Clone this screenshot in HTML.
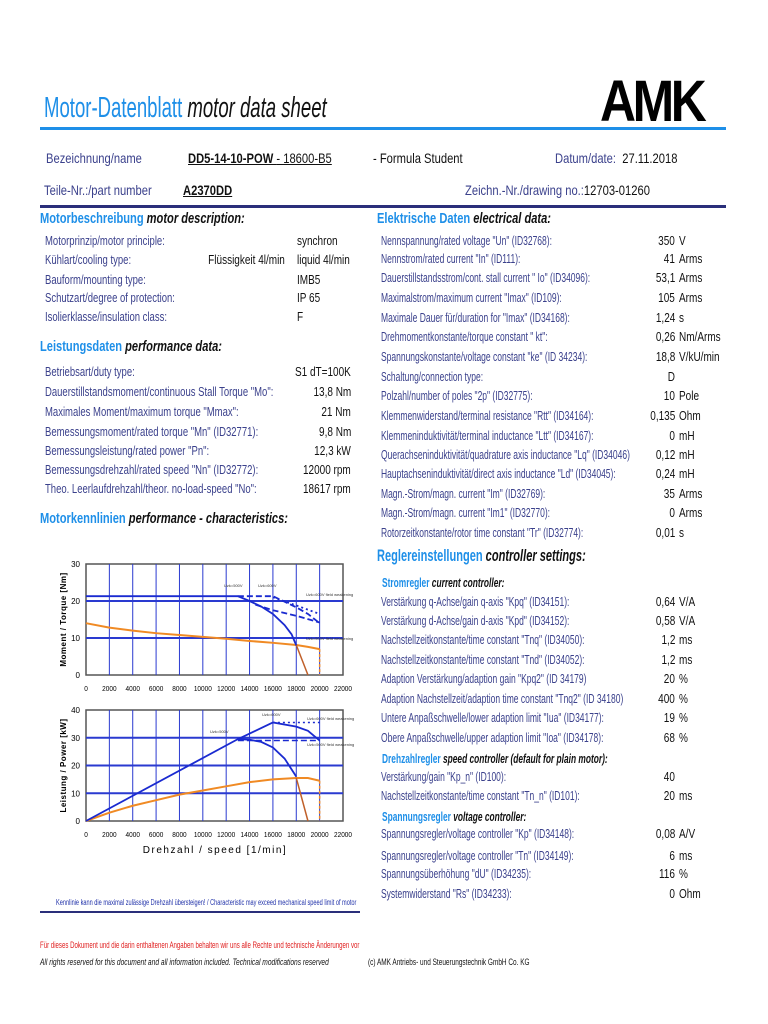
<!DOCTYPE html>
<html><head><meta charset="utf-8">
<style>
html,body{margin:0;padding:0;background:#fff;}
#page{position:relative;width:768px;height:1024px;overflow:hidden;background:#fff;font-family:"Liberation Sans Narrow","Liberation Sans",sans-serif;}
.t{position:absolute;white-space:nowrap;font-size:12.5px;line-height:14px;transform:scaleX(.8);transform-origin:0 50%;color:#3b418c;}
.v{color:#111;}
.ra{transform-origin:100% 50%;}
.ll{transform:scaleX(.76);}
.rl{transform:scaleX(.68);}
.h{font-size:15px;font-weight:bold;color:#1e8fe8;line-height:18px;transform:scaleX(.74);}
.hs{transform:scaleX(.67);}
.h i{color:#111;}
.line{position:absolute;}
</style></head>
<body>
<div id="page">
<div class="t" style="left:44px;top:92px;font-size:29px;line-height:32px;color:#1e8fe8;transform:scaleX(.64)">Motor-Datenblatt <i style="color:#111">motor data sheet</i></div>
<div class="t" style="left:600px;top:74px;font-size:58px;line-height:56px;font-weight:bold;color:#000;font-family:'Liberation Sans',sans-serif;transform:scaleX(.86);letter-spacing:-4px">AMK</div>
<div class="line" style="left:40px;top:127px;width:686px;height:3px;background:#1e8fe8"></div>
<div class="t" style="left:46px;top:151px;font-size:14px">Bezeichnung/name</div>
<div class="t v" style="left:188px;top:151px;font-size:14px;font-weight:bold;text-decoration:underline">DD5-14-10-POW <span style="font-weight:normal;text-decoration:none">- 18600-B5</span></div>
<div class="t v" style="left:373px;top:151px;font-size:14px">- Formula Student</div>
<div class="t" style="left:555px;top:151px;font-size:14px">Datum/date: <span style="color:#111">&nbsp;27.11.2018</span></div>
<div class="t" style="left:44px;top:183px;font-size:14px">Teile-Nr.:/part number</div>
<div class="t v" style="left:183px;top:183px;font-size:14px;font-weight:bold;text-decoration:underline">A2370DD</div>
<div class="t" style="left:465px;top:183px;font-size:14px">Zeichn.-Nr./drawing no.:<span style="color:#111">12703-01260</span></div>
<div class="line" style="left:40px;top:205px;width:686px;height:3px;background:#2a2f7a"></div>

<div class="t h" style="left:40px;top:210px">Motorbeschreibung <i>motor description:</i></div>
<div class="t h" style="left:40px;top:338px">Leistungsdaten <i>performance data:</i></div>
<div class="t h" style="left:40px;top:510px">Motorkennlinien <i>performance - characteristics:</i></div>
<div class="t h" style="left:377px;top:210px">Elektrische Daten <i>electrical data:</i></div>
<div class="t h" style="left:377px;top:547px;font-size:17px;transform:scaleX(.65)">Reglereinstellungen <i>controller settings:</i></div>
<div class="t h hs" style="left:382px;top:574px;font-size:12.5px">Stromregler <i>current controller:</i></div>
<div class="t h hs" style="left:382px;top:750px;font-size:12.5px">Drehzahlregler <i>speed controller (default for plain motor):</i></div>
<div class="t h hs" style="left:382px;top:808px;font-size:12.5px">Spannungsregler <i>voltage controller:</i></div>

<div class="t" style="left:56px;top:896px;font-size:8px;color:#2233aa;transform:scaleX(.7)">Kennlinie kann die maximal zulässige Drehzahl übersteigen! / Characteristic may exceed mechanical speed limit of motor</div>
<div class="line" style="left:40px;top:911px;width:320px;height:2px;background:#2a2f7a"></div>
<div class="t" style="left:40px;top:939px;font-size:9.5px;color:#e02020;transform:scaleX(.64)">Für dieses Dokument und die darin enthaltenen Angaben behalten wir uns alle Rechte und technische Änderungen vor</div>
<div class="t v" style="left:40px;top:956px;font-size:9.5px;font-style:italic;transform:scaleX(.7)">All rights reserved for this document and all information included. Technical modifications reserved</div>
<div class="t v" style="left:368px;top:956px;font-size:9.5px;transform:scaleX(.68)">(c) AMK Antriebs- und Steuerungstechnik GmbH Co. KG</div>

<svg id="charts" width="768" height="1024" style="position:absolute;left:0;top:0"></svg>
</div>
<script>
var page=document.getElementById('page');
function txt(x,y,s,cls,name,right){var d=document.createElement('div');d.className='t'+(cls?' '+cls:'');
if(right){d.style.right=(768-x)+'px';d.className+=' ra';}else d.style.left=x+'px';
d.style.top=(y-7)+'px';d.textContent=s;


page.appendChild(d);}
var desc=[[241,'Motorprinzip/motor principle:','','synchron'],[260,'Kühlart/cooling type:','Flüssigkeit 4l/min','liquid 4l/min'],[280,'Bauform/mounting type:','','IMB5'],[298,'Schutzart/degree of protection:','','IP 65'],[317,'Isolierklasse/insulation class:','','F']];
desc.forEach(function(r,i){txt(45,r[0],r[1],'ll','desc-label-'+i);if(r[2])txt(285,r[0],r[2],'v','desc-value-de-'+i,true);txt(297,r[0],r[3],'v','desc-value-'+i);});
var perf=[[372,'Betriebsart/duty type:','S1 dT=100K'],[392,'Dauerstillstandsmoment/continuous Stall Torque "Mo":','13,8 Nm'],[412,'Maximales Moment/maximum torque "Mmax":','21 Nm'],[432,'Bemessungsmoment/rated torque "Mn" (ID32771):','9,8 Nm'],[451,'Bemessungsleistung/rated power "Pn":','12,3 kW'],[470,'Bemessungsdrehzahl/rated speed "Nn" (ID32772):','12000 rpm'],[489,'Theo. Leerlaufdrehzahl/theor. no-load-speed "No":','18617 rpm']];
perf.forEach(function(r,i){txt(45,r[0],r[1],'ll','perf-label-'+i);txt(351,r[0],r[2],'v','perf-value-'+i,true);});
var elec=[[241,'Nennspannung/rated voltage "Un" (ID32768):','350','V'],[259,'Nennstrom/rated current "In" (ID111):','41','Arms'],[278,'Dauerstillstandsstrom/cont. stall current " Io" (ID34096):','53,1','Arms'],[298,'Maximalstrom/maximum current  "Imax" (ID109):','105','Arms'],[318,'Maximale Dauer für/duration for  "Imax" (ID34168):','1,24','s'],[337,'Drehmomentkonstante/torque constant " kt":','0,26','Nm/Arms'],[357,'Spannungskonstante/voltage constant  "ke" (ID 34234):','18,8','V/kU/min'],[377,'Schaltung/connection type:','D',''],[396,'Polzahl/number of poles "2p" (ID32775):','10','Pole'],[416,'Klemmenwiderstand/terminal resistance  "Rtt" (ID34164):','0,135','Ohm'],[436,'Klemmeninduktivität/terminal inductance  "Ltt" (ID34167):','0','mH'],[455,'Querachseninduktivität/quadrature axis inductance "Lq" (ID34046)','0,12','mH'],[474,'Hauptachseninduktivität/direct axis inductance "Ld" (ID34045):','0,24','mH'],[494,'Magn.-Strom/magn. current "Im" (ID32769):','35','Arms'],[513,'Magn.-Strom/magn. current "Im1" (ID32770):','0','Arms'],[533,'Rotorzeitkonstante/rotor time constant "Tr" (ID32774):','0,01','s'],
[602,'Verstärkung q-Achse/gain q-axis "Kpq"  (ID34151):','0,64','V/A'],[621,'Verstärkung d-Achse/gain d-axis "Kpd" (ID34152):','0,58','V/A'],[640,'Nachstellzeitkonstante/time constant "Tnq" (ID34050):','1,2','ms'],[660,'Nachstellzeitkonstante/time constant "Tnd"  (ID34052):','1,2','ms'],[679,'Adaption Verstärkung/adaption gain "Kpq2" (ID 34179)','20','%'],[699,'Adaption Nachstellzeit/adaption time constant "Tnq2" (ID 34180)','400','%'],[718,'Untere Anpaßschwelle/lower adaption limit "Iua" (ID34177):','19','%'],[738,'Obere Anpaßschwelle/upper adaption limit "Ioa" (ID34178):','68','%'],
[777,'Verstärkung/gain "Kp_n" (ID100):','40',''],[796,'Nachstellzeitkonstante/time constant "Tn_n" (ID101):','20','ms'],
[834,'Spannungsregler/voltage controller "Kp" (ID34148):','0,08','A/V'],[856,'Spannungsregler/voltage controller "Tn" (ID34149):','6','ms'],[874,'Spannungsüberhöhung "dU" (ID34235):','116','%'],[894,'Systemwiderstand "Rs" (ID34233):','0','Ohm']];
elec.forEach(function(r,i){txt(381,r[0],r[1],'rl','param-label-'+i);txt(675,r[0],r[2],'v','param-value-'+i,true);if(r[3])txt(679,r[0],r[3],'v','param-unit-'+i);});

// ---- chart data ----
var xTicks=[0,2000,4000,6000,8000,10000,12000,14000,16000,18000,20000,22000];
var tTicks=[0,10,20,30];
var pTicks=[0,10,20,30,40];
var tContRpm=[0,2000,4000,6000,8000,10000,12000,14000,16000,18000,19000,20000];
var tContVal=[14,12.8,12,11.3,10.8,10.3,9.8,9.2,8.7,8.1,7.6,7];
var tCutRpm=[18000,19000];var tCutVal=[8.1,0];
var tMaxRpm=[0,13000,14000,15000,16000,17000,17600,18000];
var tMaxVal=[21.3,21.3,20,18.5,16.5,13.5,11,8];
var tMax600Rpm=[13000,16000,17000,18000,19000,20000];
var tMax600Val=[21.3,21.3,19.8,18.3,16.5,14];
var tFw1Rpm=[16000,18000,20000];var tFw1Val=[21,18.8,16.5];
var tFw2Rpm=[14500,16000,18000,20000];var tFw2Val=[19,17.5,16,14.2];
var pMaxRpm=[0,13000,14000,15000,16000,17000,18000];
var pMaxVal=[0,29.5,29.3,28.5,26.5,22.5,16];
var pUpRpm=[13000,16000,18000,19000,20000];var pUpVal=[29.5,35.5,34,32.5,29];
var pDotRpm=[16000,20000];var pDotVal=[35.5,35.5];
var pDashRpm=[13000,20000];var pDashVal=[29,29];
var pContRpm=[0,2000,4000,6000,8000,10000,12000,14000,16000,18000,19000,20000];
var pContVal=[0,3,5.5,7.5,9.5,11,12.5,14,15,15.5,15.5,14.5];
var pCutRpm=[18000,19000];var pCutVal=[15.5,0];

var svg=document.getElementById('charts');var NS='http://www.w3.org/2000/svg';
function X(v){return 86+v/22000*257;}
function el(tag,attrs,name){var e=document.createElementNS(NS,tag);for(var k in attrs)e.setAttribute(k,attrs[k]);


svg.appendChild(e);return e;}
function chart(top,bottom,max,ticks,prefix,title){
 function Y(v){return bottom-v/max*(bottom-top);}
 el('rect',{x:86,y:top,width:257,height:bottom-top,fill:'#fff',stroke:'#555','stroke-width':1.5},prefix+'-plot-frame');
 xTicks.forEach(function(t,i){if(t>0&&t<22000)el('line',{x1:X(t),x2:X(t),y1:top,y2:bottom,stroke:'#2a3ad0','stroke-width':1},prefix+'-vgrid-'+i);
  var tx=el('text',{x:X(t),y:bottom+16,'font-size':7.5,'text-anchor':'middle','font-family':'Liberation Sans Narrow, Liberation Sans, sans-serif','textLength':String(t).length*3.6,'lengthAdjust':'spacingAndGlyphs'},prefix+'-x-tick-'+i);tx.textContent=t;});
 ticks.forEach(function(t,i){if(t>0&&t<max)el('line',{x1:86,x2:343,y1:Y(t),y2:Y(t),stroke:'#2a3ad0','stroke-width':2},prefix+'-hgrid-'+i);
  var tx=el('text',{x:80,y:Y(t)+3,'font-size':8,'text-anchor':'end','font-family':'Liberation Sans, sans-serif'},prefix+'-y-tick-'+i);tx.textContent=t;});
 var at=el('text',{transform:'translate(66,'+((top+bottom)/2)+') rotate(-90)','font-size':8,'font-weight':'bold','text-anchor':'middle','letter-spacing':'0.5','font-family':'Liberation Sans, sans-serif'},prefix+'-y-axis-title');at.textContent=title;
 return Y;}
function poly(xs,ys,Y,color,w,dash,name){var p=xs.map(function(x,i){return X(x)+','+Y(ys[i]);}).join(' ');
 var a={points:p,fill:'none',stroke:color,'stroke-width':w};if(dash)a['stroke-dasharray']=dash;el('polyline',a,name);}
var Y1=chart(564,675,30,tTicks,'torque','Moment / Torque [Nm]');
poly(tContRpm,tContVal,Y1,'#f08a24',2,null,'torque-continuous-line');
el('line',{x1:X(20000),x2:X(20000),y1:Y1(7),y2:Y1(0),stroke:'#f08a24','stroke-width':1.5,'stroke-dasharray':'3,2'},'torque-continuous-drop');
poly(tCutRpm,tCutVal,Y1,'#c0602a',1.5,null,'torque-cutoff-line');
poly(tMaxRpm,tMaxVal,Y1,'#1a2ad0',1.8,null,'torque-max-350v-line');
poly(tMax600Rpm,tMax600Val,Y1,'#1a2ad0',1.8,'6,3','torque-max-600v-line');
poly(tFw1Rpm,tFw1Val,Y1,'#1a2ad0',1.8,'2,3','torque-field-weakening-dotted');
poly(tFw2Rpm,tFw2Val,Y1,'#1a2ad0',1.8,'6,3','torque-field-weakening-dashed');
var Y2=chart(710,821,40,pTicks,'power','Leistung / Power [kW]');
poly(pContRpm,pContVal,Y2,'#f08a24',2,null,'power-continuous-line');
el('line',{x1:X(20000),x2:X(20000),y1:Y2(14.5),y2:Y2(0),stroke:'#f08a24','stroke-width':1.5,'stroke-dasharray':'3,2'},'power-continuous-drop');
poly(pCutRpm,pCutVal,Y2,'#c0602a',1.5,null,'power-cutoff-line');
poly(pMaxRpm,pMaxVal,Y2,'#1a2ad0',1.8,null,'power-max-350v-line');
poly(pUpRpm,pUpVal,Y2,'#1a2ad0',1.8,null,'power-max-600v-line');
poly(pDotRpm,pDotVal,Y2,'#1a2ad0',1.5,'2,3','power-field-weakening-dotted');
poly(pDashRpm,pDashVal,Y2,'#1a2ad0',1.5,'6,3','power-field-weakening-dashed');
var xt=el('text',{x:215,y:853,'font-size':10,'text-anchor':'middle','letter-spacing':'1.5','font-family':'Liberation Sans Narrow, Liberation Sans, sans-serif'},'x-axis-title');xt.textContent='Drehzahl / speed [1/min]';
var notes=[[224,587,'Uzk=500V'],[258,587,'Uzk=600V'],[306,596,'Uzk=600V field weakening'],[306,640,'Uzk=500V field weakening'],[210,733,'Uzk=500V'],[262,716,'Uzk=600V'],[307,720,'Uzk=600V field weakening'],[307,746,'Uzk=500V field weakening']];
notes.forEach(function(n,i){var t=el('text',{x:n[0],y:n[1],'font-size':4,fill:'#333','font-family':'Liberation Sans, sans-serif'},'curve-annotation-'+i);t.textContent=n[2];});
</script>
</body></html>
